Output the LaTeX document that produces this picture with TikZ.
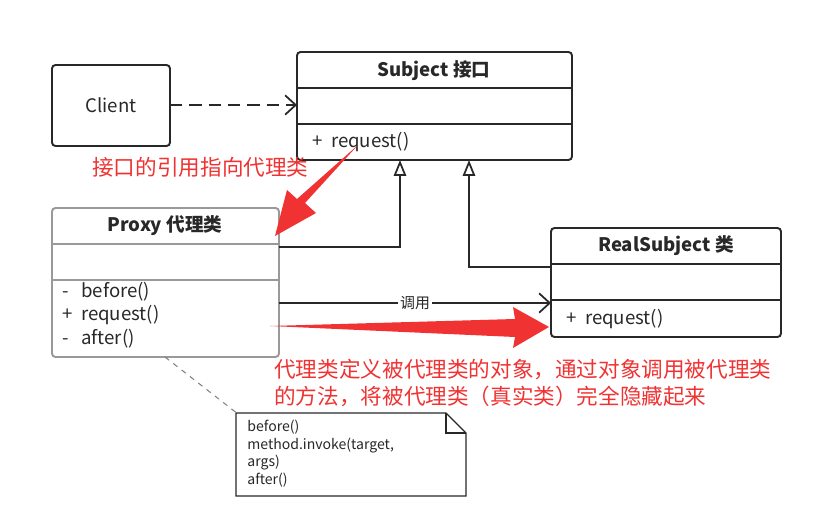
\documentclass[tikz,border=0pt]{standalone}
\usepackage{fontspec}
\setmainfont{Noto Sans CJK SC}
\usetikzlibrary{arrows.meta}
\definecolor{ink}{RGB}{40,40,40}
\definecolor{redm}{RGB}{240,50,50}
\begin{document}
\begin{tikzpicture}[x=0.02cm,y=-0.02cm,
  box/.style={draw=ink,line width=1.1pt,rounded corners=2pt},
  gbox/.style={draw=gray!80,line width=1.1pt,rounded corners=2pt},
  txt/.style={font=\fontsize{10.6}{12}\selectfont,text=ink,inner sep=0pt},
  ttl/.style={font=\fontsize{10.6}{12}\selectfont\bfseries,text=ink,inner sep=0pt},
  rtxt/.style={font=\fontsize{12.3}{14}\selectfont,text=redm,inner sep=0pt,anchor=west},
  conn/.style={draw=ink,line width=1pt},
  open/.style={-{Straight Barb[length=6pt,width=11pt]}},
  tri/.style={-{Triangle[open,length=9pt,width=7pt]}}]
\useasboundingbox (0,0) rectangle (840,520);
% Client
\draw[box] (52,65) rectangle (170,146);
\node[txt] (client) at (111,105) {Client};
\coordinate (clientR) at (170,105);
% Subject
\draw[box] (297,52) rectangle (572,160);
\draw[ink,line width=1pt] (297,88) -- (572,88) (297,124) -- (572,124);
\node[ttl] (subj) at (434,71) {Subject 接口};
\node[txt,anchor=west] (sreq) at (312,142) {+\ \ request()};
\coordinate (subjL) at (297,105);
\coordinate (subjB1) at (400,160);
\coordinate (subjB2) at (469,160);
% Proxy
\draw[gbox] (52,208) rectangle (279,357);
\draw[gray!80,line width=1pt] (52,244) -- (279,244) (52,280) -- (279,280);
\node[ttl] (proxy) at (165,226) {Proxy 代理类};
\node[txt,anchor=west] (m1) at (62,292) {-\ \ \ before()};
\node[txt,anchor=west] (m2) at (62,315) {+\ \ request()};
\node[txt,anchor=west] (m3) at (62,339) {-\ \ \ after()};
\coordinate (pR1) at (279,247);
\coordinate (pR2) at (279,303);
\coordinate (pB) at (165,357);
% RealSubject
\draw[box] (551,228) rectangle (781,337);
\draw[ink,line width=1pt] (551,264) -- (781,264) (551,300) -- (781,300);
\node[ttl] (real) at (666,246) {RealSubject 类};
\node[txt,anchor=west] (rreq) at (566,319) {+\ \ request()};
\coordinate (rL1) at (551,267);
\coordinate (rL2) at (551,303);
% note
\draw[draw=ink,line width=0.8pt,fill=white] (236,413) -- (446,413) -- (466,433) -- (466,496) -- (236,496) -- cycle;
\draw[ink,line width=0.8pt] (446,413) -- (446,433) -- (466,433);
\node[font=\fontsize{8}{10}\selectfont,text=ink,anchor=north west,align=left,inner sep=0pt] (note) at (247,420) {before()\\method.invoke(target,\\args)\\after()};
\coordinate (noteTL) at (238,414);
% connectors
\draw[conn,dashed,dash pattern=on 7pt off 4pt,open] (clientR) -- (subjL);
\draw[conn,tri] (pR1) -- (400,247) -- (subjB1);
\draw[conn,tri] (rL1) -- (469,267) -- (subjB2);
\draw[conn,open] (pR2) -- (rL2) node[pos=0.5,fill=white,inner sep=1pt,font=\fontsize{8.5}{9}\selectfont,text=ink] (call) {调用};
\draw[gray,line width=0.6pt,dashed] (pB) -- (noteTL);
% red arrows
\fill[redm] (358,145) -- (305,203) -- (316,213) -- (275,236) -- (287,190) -- (297,199) -- cycle;
\fill[redm] (270,326) -- (515,319) -- (513,307) -- (549,327) -- (513,348) -- (515,337) -- cycle;
\node[rtxt] (r1) at (92,167) {接口的引用指向代理类};
\node[rtxt] (r2) at (274,370) {代理类定义被代理类的对象，通过对象调用被代理类};
\node[rtxt] (r3) at (274,396) {的方法，将被代理类（真实类）完全隐藏起来};
\end{tikzpicture}
\end{document}
